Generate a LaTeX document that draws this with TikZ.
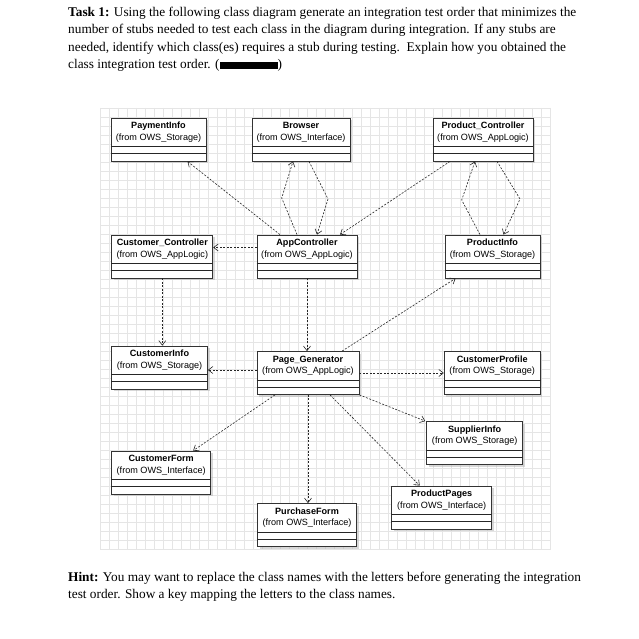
\documentclass[tikz,border=0pt]{standalone}
\usepackage{fontspec}
\setmainfont{Liberation Serif}
\newfontfamily\umlfont{Liberation Sans}
\usetikzlibrary{arrows.meta,shadows}
\tikzset{
  classbox/.style={draw=black!80, line width=0.8pt, fill=white, minimum height=43pt, inner sep=0pt,
    drop shadow={shadow xshift=2pt, shadow yshift=-2pt, fill=black!30, opacity=0.5}},
  classname/.style={font=\umlfont\fontsize{9.1}{11.6}\selectfont, align=center, inner sep=0pt},
  divider/.style={draw=black!85, line width=0.8pt},
  dep/.style={draw=black!85, line width=0.6pt, dash pattern=on 2pt off 1.5pt,
    -{Straight Barb[length=4.5pt,width=7pt]}},
  gridline/.style={draw=black!10, line width=0.5pt},
}
\newcommand\umlclass[6]{%
  \node[classbox, minimum width=#4pt] (#1) at (#2,#3) {};
  \node[classname] (#1-t) at ([yshift=-14.5pt]#1.north) {\textbf{#5}\\(from OWS\_#6)};
  \draw[divider] ([yshift=-29pt]#1.north west) -- ([yshift=-29pt]#1.north east);
  \draw[divider] ([yshift=-36pt]#1.north west) -- ([yshift=-36pt]#1.north east);
}
\begin{document}
\begin{tikzpicture}[x=1pt,y=-1pt]
\useasboundingbox (0,0) rectangle (639,639);
\fill[white] (0,0) rectangle (639,639);
% grid
\foreach \i in {0,...,50} {\draw[gridline] (100+9*\i,108) -- (100+9*\i,550);}
\foreach \j in {0,...,49} {\draw[gridline] (100,108+9*\j) -- (550,108+9*\j);}
% task text
\node[anchor=north west, align=left, inner sep=0pt, font=\fontsize{13.3}{17.3}\selectfont] (task) at (68,7)
 {\textbf{Task 1:} Using the following class diagram generate an integration test order that minimizes the\\
  number of stubs needed to test each class in the diagram during integration. If any stubs are\\
  needed, identify which class(es) requires a stub during testing.\ \ Explain how you obtained the\\
  class integration test order. (\rule[-1pt]{58pt}{7pt})};
\node[anchor=north west, align=left, inner sep=0pt, font=\fontsize{13.3}{17.3}\selectfont] (hint) at (68,572)
 {\textbf{Hint:} You may want to replace the class names with the letters before generating the integration\\
  test order. Show a key mapping the letters to the class names.};
% classes
\umlclass{pi}{158.5}{139.5}{95}{PaymentInfo}{Storage}
\umlclass{br}{301}{139.5}{98}{Browser}{Interface}
\umlclass{pc}{483}{139.5}{100}{Product\_Controller}{AppLogic}
\umlclass{cc}{162.3}{256.5}{101}{Customer\_Controller}{AppLogic}
\umlclass{ac}{307}{256.5}{100}{AppController}{AppLogic}
\umlclass{pin}{492.5}{256.5}{95}{ProductInfo}{Storage}
\umlclass{ci}{159.5}{367.5}{96}{CustomerInfo}{Storage}
\umlclass{pg}{308}{373}{102}{Page\_Generator}{AppLogic}
\umlclass{cp}{492.2}{373}{96}{CustomerProfile}{Storage}
\umlclass{si}{474.7}{443}{96}{SupplierInfo}{Storage}
\umlclass{cf}{161.2}{472.5}{99}{CustomerForm}{Interface}
\umlclass{pp}{441.7}{507.5}{100}{ProductPages}{Interface}
\umlclass{pf}{307}{525}{99}{PurchaseForm}{Interface}
% bend points
\coordinate (v1) at (281.7,198);
\coordinate (v2) at (328,199);
\coordinate (v3) at (461.7,200);
\coordinate (v4) at (520,199);
% dependencies
\draw[dep] ([xshift=-27pt]ac.north) -- ([xshift=29pt]pi.south);
\draw[dep] ([xshift=-10pt]ac.north) -- (v1) -- ([xshift=-8pt]br.south);
\draw[dep] ([xshift=8pt]br.south) -- (v2) -- ([xshift=10pt]ac.north);
\draw[dep] ([xshift=-33pt]pc.south) -- ([xshift=33pt]ac.north);
\draw[dep] ([xshift=-12.5pt]pin.north) -- (v3) -- ([xshift=-8pt]pc.south);
\draw[dep] ([xshift=14pt]pc.south) -- (v4) -- ([xshift=11pt]pin.north);
\draw[dep] ([yshift=9pt]ac.west) -- ([yshift=9pt]cc.east);
\draw[dep] (cc.south) -- (cc.south |- ci.north);
\draw[dep] (ac.south) -- (ac.south |- pg.north);
\draw[dep] ([xshift=34pt]pg.north) -- ([xshift=-37pt]pin.south);
\draw[dep] ([yshift=3pt]pg.west) -- ([yshift=3pt]pg.west -| ci.east);
\draw[dep] (pg.east) -- (pg.east -| cp.west);
\draw[dep] ([xshift=-33pt]pg.south) -- ([xshift=32pt]cf.north);
\draw[dep] (pg.south) -- (pg.south |- pf.north);
\draw[dep] (pg.south east) -- ([xshift=-1pt]si.north west);
\draw[dep] ([xshift=22pt]pg.south) -- ([xshift=-22pt]pp.north);
\end{tikzpicture}
\end{document}
